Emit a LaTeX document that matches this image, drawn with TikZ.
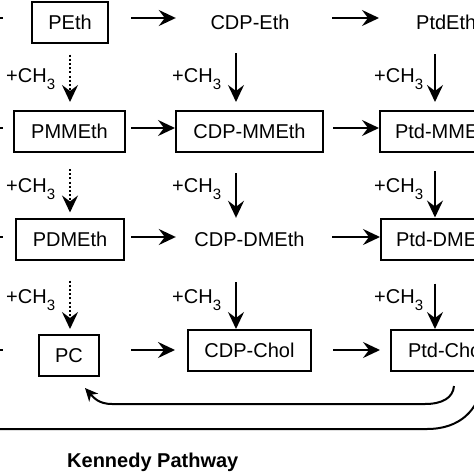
\documentclass[tikz,border=0pt]{standalone}
\usepackage{fontspec}
\setmainfont{Liberation Sans}
\usetikzlibrary{arrows.meta,calc}
\newcommand{\methyl}{+CH\raisebox{-7pt}{\fontsize{15}{15}\selectfont 3}}
\begin{document}
\begin{tikzpicture}[x=1pt,y=-1pt,
  every node/.style={font=\fontsize{20}{24}\selectfont, inner sep=0pt},
  box/.style={draw, line width=2pt, minimum height=41pt, text height=14.5pt, text depth=0pt},
  lbl/.style={text height=14.5pt, text depth=0pt, minimum height=40pt},
  arr/.style={line width=2.2pt, -{Stealth[length=17pt,width=16pt,inset=6pt]}},
  darr/.style={arr, dash pattern=on 2pt off 2.2pt},
  carr/.style={line width=2pt, -{Stealth[length=13pt,width=12pt,inset=4pt]}},
  plain/.style={line width=2pt},
  me/.style={anchor=base west}
]
\clip (0,0) rectangle (474,474);
\fill[white] (0,0) rectangle (474,474);

% nodes
\node[box, minimum width=76pt] (PEth) at (70,22) {PEth};
\node[lbl, minimum width=80pt] (CDPEth) at (250,22) {CDP-Eth};
\node[lbl, anchor=west] (PtdEth) at (416,22) {PtdEth};

\node[box, minimum width=111pt] (PMMEth) at (69.5,131.5) {PMMEth};
\node[box, minimum width=147pt] (CDPMMEth) at (249.5,131.5) {CDP-MMEth};
\node[box, anchor=west, inner xsep=15pt] (PtdMMEth) at (379,131.5) {Ptd-MMEth};

\node[box, minimum width=108pt] (PDMEth) at (70,239) {PDMEth};
\node[lbl, minimum width=111pt] (CDPDMEth) at (249.5,239) {CDP-DMEth};
\node[box, anchor=west, inner xsep=15pt] (PtdDMEth) at (380,239) {Ptd-DMEth};

\node[box, minimum width=60pt] (PC) at (69,355.5) {PC};
\node[box, minimum width=123pt] (CDPChol) at (249.5,350.5) {CDP-Chol};
\node[box, anchor=west, inner xsep=17pt] (PtdChol) at (390,350.5) {Ptd-Chol};

% methyl labels
\node[me] (m11) at (6,82) {\methyl};
\node[me] (m12) at (172,82) {\methyl};
\node[me] (m13) at (374,82) {\methyl};
\node[me] (m21) at (6,192) {\methyl};
\node[me] (m22) at (172,192) {\methyl};
\node[me] (m23) at (374,192) {\methyl};
\node[me] (m31) at (6,303) {\methyl};
\node[me] (m32) at (172,303) {\methyl};
\node[me] (m33) at (374,303) {\methyl};

% horizontal arrows
\draw[arr] ($(PEth.east)+(22,-4)$) -- ($(CDPEth.west)+(-34,-4)$);
\draw[arr] ($(CDPEth.east)+(42,-4)$) -- ($(PtdEth.west)+(-37,-4)$);
\draw[arr] ($(PMMEth.east)+(5,-3.5)$) -- ($(CDPMMEth.west)+(0,-3.5)$);
\draw[arr] ($(CDPMMEth.east)+(9,-3.5)$) -- ($(PtdMMEth.west)+(0,-3.5)$);
\draw[arr] ($(PDMEth.east)+(6,-2)$) -- ($(CDPDMEth.west)+(-18,-2)$);
\draw[arr] ($(CDPDMEth.east)+(27,-2)$) -- ($(PtdDMEth.west)+(0,-2)$);
\draw[arr] ($(PC.east)+(31,-5.5)$) -- ($(CDPChol.west)+(-12,-0.5)$);
\draw[arr] ($(CDPChol.east)+(21,-0.5)$) -- ($(PtdChol.west)+(-10,-0.5)$);

% vertical arrows, column 1 (dotted)
\draw[darr] ($(PEth.south)+(0,11)$) -- ($(PMMEth.north)+(0.5,-8)$);
\draw[darr] ($(PMMEth.south)+(0.5,16)$) -- ($(PDMEth.north)+(0,-5)$);
\draw[darr] ($(PDMEth.south)+(0,20)$) -- ($(PC.north)+(1,-5)$);

% column 2
\draw[arr] ($(CDPEth.south)+(-14,11)$) -- ($(CDPMMEth.north)+(-13.5,-8)$);
\draw[arr] ($(CDPMMEth.south)+(-13.5,20)$) -- ($(CDPDMEth.north)+(-13.5,-1)$);
\draw[arr] ($(CDPDMEth.south)+(-13.5,23)$) -- ($(CDPChol.north)+(-13.5,0)$);

% column 3
\draw[arr] ($(PtdEth.south west)+(19,12)$) -- ($(PtdMMEth.north west)+(56,-8)$);
\draw[arr] ($(PtdMMEth.south west)+(56,18)$) -- ($(PtdDMEth.north west)+(55,0)$);
\draw[arr] ($(PtdDMEth.south west)+(55,23)$) -- ($(PtdChol.north west)+(45,0)$);

% left edge ticks
\coordinate (t1a) at (-4,18);  \coordinate (t1b) at (3,18);
\coordinate (t2a) at (-4,128); \coordinate (t2b) at (3,128);
\coordinate (t3a) at (-4,237); \coordinate (t3b) at (3,237);
\coordinate (t4a) at (-4,350); \coordinate (t4b) at (3,350);
\draw[plain] (t1a) -- (t1b);
\draw[plain] (t2a) -- (t2b);
\draw[plain] (t3a) -- (t3b);
\draw[plain] (t4a) -- (t4b);

% return curves
\coordinate (cIn) at ($(PtdChol.south west)+(64,14)$);
\coordinate (cTip) at ($(PC.south)+(16,11)$);
\draw[carr] (cIn) .. controls (453,398) and (442,404) .. (425,404) -- (112,404)
  .. controls (99,404) and (94,398) .. (cTip);
\coordinate (oR) at (482,385);
\coordinate (oL) at (-5,429);
\draw[plain] (oR) .. controls (478,410) and (460,429) .. (427,429) -- (oL);

\node[anchor=base west, font=\fontsize{20}{24}\selectfont\bfseries] (title) at (67,467) {Kennedy Pathway};
\end{tikzpicture}
\end{document}
